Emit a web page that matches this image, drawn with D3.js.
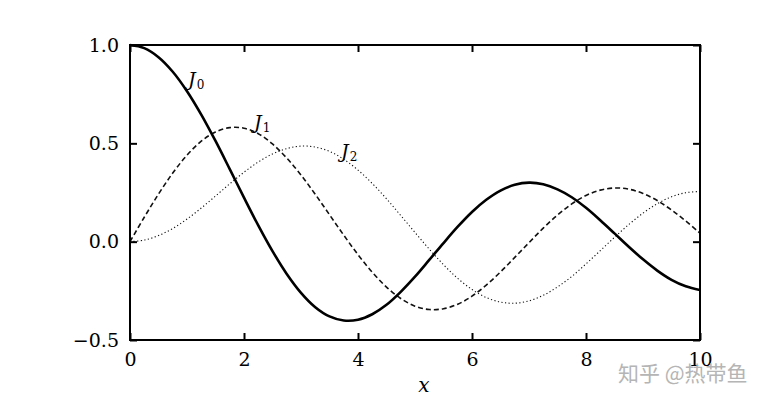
<!DOCTYPE html>
<html><head><meta charset="utf-8">
<script src="https://cdn.jsdelivr.net/npm/d3@7"></script>
<style>body{margin:0;background:#fff}svg{display:block}</style>
</head><body>
<svg id="c" width="784" height="405"></svg>
<script>
const xs = [0,0.25,0.5,0.75,1,1.25,1.5,1.75,2,2.25,2.5,2.75,3,3.25,3.5,3.75,4,4.25,4.5,4.75,5,5.25,5.5,5.75,6,6.25,6.5,6.75,7,7.25,7.5,7.75,8,8.25,8.5,8.75,9,9.25,9.5,9.75,10];
const j0 = [1.0,0.984,0.938,0.864,0.765,0.646,0.512,0.369,0.224,0.083,-0.048,-0.164,-0.260,-0.333,-0.380,-0.401,-0.397,-0.369,-0.321,-0.255,-0.178,-0.093,-0.007,0.076,0.151,0.213,0.260,0.289,0.300,0.292,0.266,0.226,0.172,0.109,0.042,-0.026,-0.090,-0.147,-0.194,-0.227,-0.246];
const j1 = [0,0.124,0.242,0.349,0.440,0.511,0.558,0.580,0.577,0.549,0.497,0.425,0.339,0.241,0.137,0.033,-0.066,-0.155,-0.231,-0.289,-0.328,-0.345,-0.341,-0.318,-0.277,-0.221,-0.154,-0.080,-0.005,0.069,0.135,0.192,0.235,0.262,0.273,0.267,0.245,0.209,0.161,0.105,0.043];
const j2 = [0,0.008,0.031,0.067,0.115,0.171,0.232,0.294,0.353,0.405,0.446,0.473,0.486,0.481,0.459,0.419,0.364,0.296,0.218,0.133,0.047,-0.038,-0.117,-0.187,-0.243,-0.284,-0.307,-0.313,-0.301,-0.273,-0.230,-0.177,-0.113,-0.046,0.022,0.087,0.145,0.193,0.228,0.249,0.255];
const xTicks = [0,2,4,6,8,10];
const yTicks = [-0.5,0.0,0.5,1.0];
const seriesNames = ["J0","J1","J2"];

const svg = d3.select("#c");
const L=130, R=700, T=45, B=340;
const x = d3.scaleLinear().domain([0,10]).range([L,R]);
const y = d3.scaleLinear().domain([-0.5,1.0]).range([B,T]);
const font = "'DejaVu Serif', 'Liberation Serif', serif";

svg.append("clipPath").attr("id","cp").append("rect")
  .attr("x",L).attr("y",T-2).attr("width",R-L).attr("height",B-T+4);

const line = d3.line().x((d,i)=>x(xs[i])).y(d=>y(d)).curve(d3.curveCatmullRom.alpha(0.5));
const g = svg.append("g").attr("clip-path","url(#cp)");
g.append("path").datum(j2).attr("d",line).attr("fill","none").attr("stroke","#111").attr("stroke-width",1.1).attr("stroke-dasharray","1.2,2.4");
g.append("path").datum(j1).attr("d",line).attr("fill","none").attr("stroke","#111").attr("stroke-width",1.6).attr("stroke-dasharray","5,3");
g.append("path").datum(j0).attr("d",line).attr("fill","none").attr("stroke","#000").attr("stroke-width",2.6);

svg.append("rect").attr("x",L).attr("y",T).attr("width",R-L).attr("height",B-T)
  .attr("fill","none").attr("stroke","#000").attr("stroke-width",2);

const ax = [
  svg.append("g").attr("transform",`translate(0,${B})`).call(d3.axisBottom(x).tickValues(xTicks).tickSizeInner(-7).tickSizeOuter(0).tickPadding(13).tickFormat(d3.format("d"))),
  svg.append("g").attr("transform",`translate(0,${T})`).call(d3.axisTop(x).tickValues(xTicks).tickSizeInner(-7).tickSizeOuter(0).tickFormat("")),
  svg.append("g").attr("transform",`translate(${L},0)`).call(d3.axisLeft(y).tickValues(yTicks).tickSizeInner(-7).tickSizeOuter(0).tickPadding(11).tickFormat(d=>d3.format(".1f")(d).replace("-","\u2212"))),
  svg.append("g").attr("transform",`translate(${R},0)`).call(d3.axisRight(y).tickValues(yTicks).tickSizeInner(-7).tickSizeOuter(0).tickFormat(""))
];
ax.forEach(a=>{
  a.select(".domain").remove();
  a.attr("font-size",null).attr("font-family",null);
  a.selectAll(".tick line").attr("stroke","#000").attr("stroke-width",2);
  a.selectAll(".tick text").attr("font-family",font).attr("font-size",19).attr("fill","#000");
});

svg.append("text").attr("x",424).attr("y",392).attr("text-anchor","middle")
  .attr("font-family",font).attr("font-style","italic").attr("font-size",20).text("x");

const labelPos = [[188,86],[254,129],[341,158]];
seriesNames.forEach((n,i)=>{
  const t = svg.append("text").attr("x",labelPos[i][0]).attr("y",labelPos[i][1])
    .attr("font-family",font).attr("font-size",19).attr("fill","#000");
  t.append("tspan").attr("font-style","italic").text("J");
  t.append("tspan").attr("font-size",12).attr("dy",3).attr("dx",1).text(n.slice(1));
});

svg.append("text").attr("x",618).attr("y",381).attr("font-family","'Noto Sans CJK SC', sans-serif")
  .attr("font-size",21).attr("fill","#b5b5b5").text("知乎 @热带鱼");
</script>
</body></html>
